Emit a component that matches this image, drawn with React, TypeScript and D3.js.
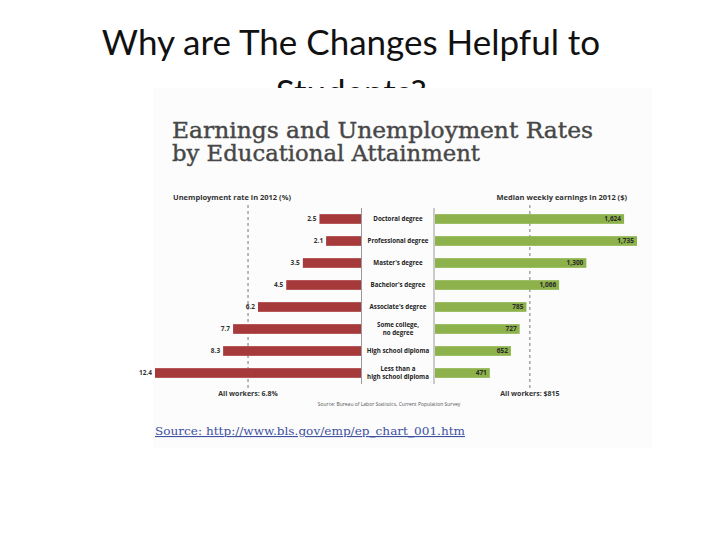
import React from "react";
import * as d3 from "d3";

const categories = [
  ["Doctoral degree"],
  ["Professional degree"],
  ["Master's degree"],
  ["Bachelor's degree"],
  ["Associate's degree"],
  ["Some college,", "no degree"],
  ["High school diploma"],
  ["Less than a", "high school diploma"],
];
const unemployment = [2.5, 2.1, 3.5, 4.5, 6.2, 7.7, 8.3, 12.4];
const earnings = [1624, 1735, 1300, 1066, 785, 727, 652, 471];
const allUnemployment = 6.8;
const allEarnings = 815;

const RED = "#a63a3b";
const GREEN = "#8db24b";
const labelFont = "'Open Sans', 'DejaVu Sans', sans-serif";

const App = () => {
  const y = d3
    .scaleBand<number>()
    .domain(d3.range(categories.length))
    .range([208, 384])
    .paddingInner(0.56)
    .paddingOuter(0.28);

  // left side grows leftwards from the divider
  const xLeft = d3.scaleLinear().domain([0, 12.4]).range([361, 155]);
  const xRight = d3.scaleLinear().domain([0, 1735]).range([435, 637]);
  const fmt = d3.format(",");

  return (
    <svg width={720} height={540} style={{ position: "absolute", left: 0, top: 0 }}>
      <rect width={720} height={540} fill="#ffffff" />
      <text x={351} y={55} textAnchor="middle" fontFamily="Lato, 'Open Sans', sans-serif" fontSize={35} fill="#111">
        Why are The Changes Helpful to
      </text>
      <text x={351} y={105} textAnchor="middle" fontFamily="Lato, 'Open Sans', sans-serif" fontSize={35} fill="#111">
        Students?
      </text>

      {/* pasted picture of the chart */}
      <rect x={153} y={88} width={499} height={360} fill="#fcfcfc" />

      <text x={172} y={138} fontFamily="'DejaVu Serif', serif" fontSize={22} fill="#474747" stroke="#474747" strokeWidth={0.4} textLength={421} lengthAdjust="spacingAndGlyphs">
        Earnings and Unemployment Rates
      </text>
      <text x={172} y={161} fontFamily="'DejaVu Serif', serif" fontSize={22} fill="#474747" stroke="#474747" strokeWidth={0.4} textLength={308} lengthAdjust="spacingAndGlyphs">
        by Educational Attainment
      </text>

      <text x={173} y={200} fontFamily={labelFont} fontWeight="bold" fontSize={7.5} fill="#333">
        Unemployment rate in 2012 (%)
      </text>
      <text x={627} y={200} textAnchor="end" fontFamily={labelFont} fontWeight="bold" fontSize={7.5} fill="#333">
        Median weekly earnings in 2012 ($)
      </text>

      {/* divider lines around the category labels */}
      <line x1={361.5} x2={361.5} y1={208} y2={384} stroke="#999" strokeWidth={1} />
      <line x1={434} x2={434} y1={208} y2={384} stroke="#999" strokeWidth={1} />

      <line x1={xLeft(allUnemployment)} x2={xLeft(allUnemployment)} y1={205} y2={388} stroke="#777" strokeWidth={1} strokeDasharray="3,3" />
      <line x1={xRight(allEarnings)} x2={xRight(allEarnings)} y1={205} y2={388} stroke="#777" strokeWidth={1} strokeDasharray="3,3" />

      {unemployment.map((v, i) => (
        <g key={"u" + i}>
          <rect x={xLeft(v)} y={y(i)} width={xLeft(0) - xLeft(v)} height={y.bandwidth()} fill={RED} />
          <text x={xLeft(v) - 3} y={y(i)! + y.bandwidth() / 2} dy="0.35em" textAnchor="end" fontFamily={labelFont} fontWeight="bold" fontSize={6.5} fill="#333">
            {v.toFixed(1)}
          </text>
        </g>
      ))}

      {earnings.map((v, i) => (
        <g key={"e" + i}>
          <rect x={xRight(0)} y={y(i)} width={xRight(v) - xRight(0)} height={y.bandwidth()} fill={GREEN} />
          <text x={xRight(v) - 3} y={y(i)! + y.bandwidth() / 2} dy="0.35em" textAnchor="end" fontFamily={labelFont} fontWeight="bold" fontSize={6.5} fill="#2a2a2a">
            {fmt(v)}
          </text>
        </g>
      ))}

      {categories.map((lines, i) => {
        const cy = y(i)! + y.bandwidth() / 2;
        const top = cy - ((lines.length - 1) * 7.5) / 2;
        return (
          <text key={"c" + i} textAnchor="middle" fontFamily={labelFont} fontWeight="bold" fontSize={6.2} fill="#222">
            {lines.map((l, j) => (
              <tspan key={j} x={398} y={top + j * 7.5} dy="0.35em">
                {l}
              </tspan>
            ))}
          </text>
        );
      })}

      <text x={xLeft(allUnemployment)} y={396} textAnchor="middle" fontFamily={labelFont} fontWeight="bold" fontSize={7} fill="#333">
        All workers: 6.8%
      </text>
      <text x={xRight(allEarnings)} y={396} textAnchor="middle" fontFamily={labelFont} fontWeight="bold" fontSize={7} fill="#333">
        All workers: $815
      </text>
      <text x={389} y={406} textAnchor="middle" fontFamily={labelFont} fontSize={5} fill="#555">
        Source: Bureau of Labor Statistics, Current Population Survey
      </text>

      <text x={155} y={435} fontFamily="'DejaVu Serif', serif" fontSize={11} fill="#4050a0" textDecoration="underline" textLength={310} lengthAdjust="spacingAndGlyphs">
        Source: http://www.bls.gov/emp/ep_chart_001.htm
      </text>
    </svg>
  );
};

export default App;
